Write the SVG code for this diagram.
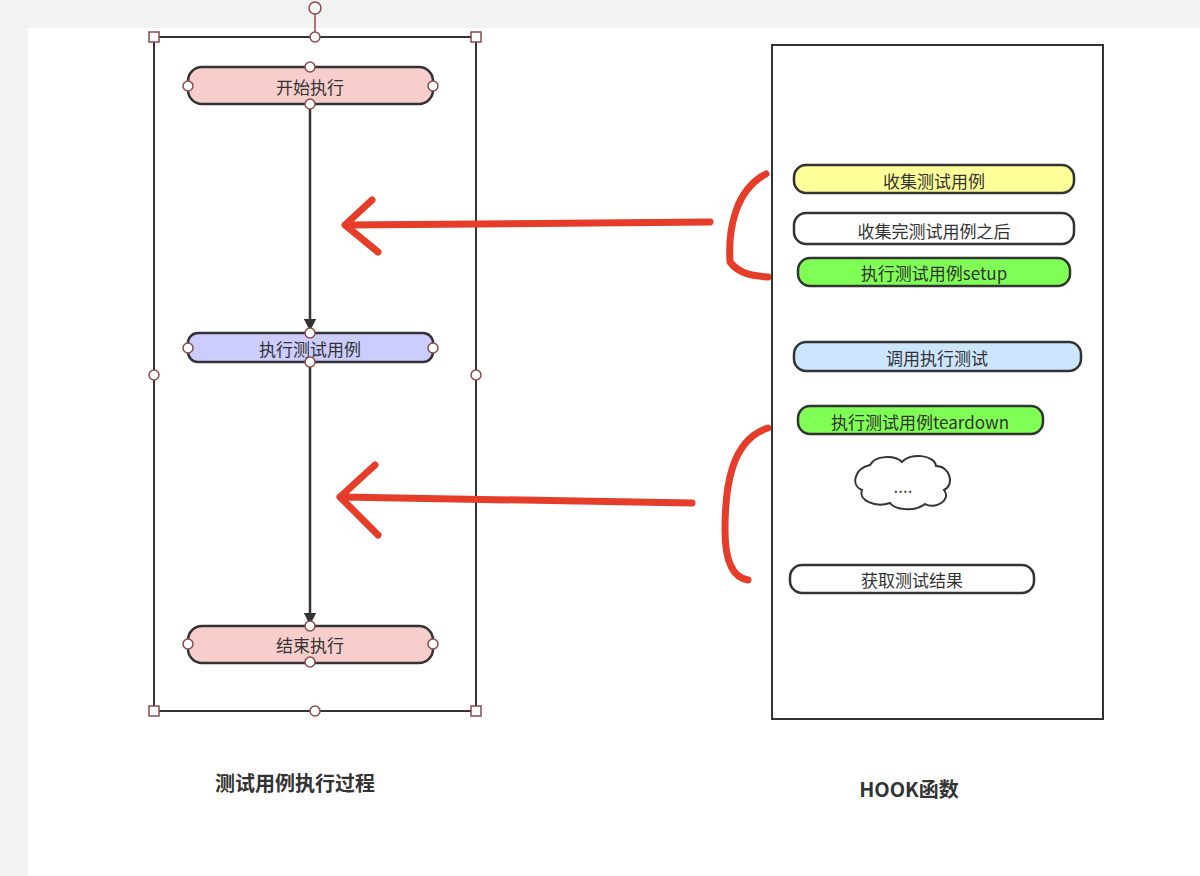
<svg xmlns="http://www.w3.org/2000/svg" width="1200" height="876" viewBox="0 0 1200 876">
<style>
text{font-family:"Noto Sans CJK SC","Liberation Sans",sans-serif;fill:#333;font-size:17px;text-anchor:middle;dominant-baseline:central}
.n{stroke:#333;stroke-width:2.5}
.h{fill:#fff;stroke:#8b4a4a;stroke-width:1.5}
.red{fill:none;stroke:#e63c2a;stroke-width:7;stroke-linecap:round;stroke-linejoin:round}
</style>
<defs><marker id="a" viewBox="0 0 10 10" refX="9" refY="5" markerWidth="5" markerHeight="5" orient="auto"><path d="M0,0L10,5L0,10z" fill="#333"/></marker></defs>
<rect width="1200" height="876" fill="#f2f2f2"/>
<rect x="28" y="28" width="1172" height="848" fill="#fff"/>
<g id="frame"><rect x="154" y="37" width="322" height="674" fill="none" stroke="#333" stroke-width="2"/>
<line x1="315" y1="8" x2="315" y2="37" stroke="#8b4a4a" stroke-width="1.5"/><circle cx="315" cy="8" r="6" class="h"/>
<rect x="149" y="32" width="10" height="10" class="h"/><rect x="471" y="32" width="10" height="10" class="h"/><rect x="149" y="706" width="10" height="10" class="h"/><rect x="471" y="706" width="10" height="10" class="h"/>
<circle cx="315" cy="37" r="5" class="h"/><circle cx="315" cy="711" r="5" class="h"/><circle cx="154" cy="375" r="5" class="h"/><circle cx="476" cy="375" r="5" class="h"/></g>
<g id="connectors"><line x1="310" y1="103" x2="310" y2="330" stroke="#333" stroke-width="2.5" marker-end="url(#a)"/><line x1="310" y1="362" x2="310" y2="624" stroke="#333" stroke-width="2.5" marker-end="url(#a)"/>
<path class="red" d="M710,222 L345,225 M372,200 L345,225 L378,252"/><path class="red" d="M692,503 L340,497 M375,465 L340,497 L378,535"/>
<path class="red" d="M766,174 C735,190 728,230 730,262 C740,275 755,276 768,277"/><path class="red" d="M768,428 C730,440 725,490 725,530 C725,565 735,578 748,580"/></g>
<g id="start"><rect x="188" y="67" width="245" height="37" rx="14" fill="#f8cecc" class="n"/><text x="310" y="86">开始执行</text><circle cx="310" cy="67" r="5" class="h"/><circle cx="188" cy="86" r="5" class="h"/><circle cx="433" cy="86" r="5" class="h"/><circle cx="310" cy="104" r="5" class="h"/></g>
<g id="exec"><rect x="188" y="333" width="245" height="29" rx="10" fill="#ccccff" class="n"/><text x="310" y="348">执行测试用例</text><circle cx="310" cy="333" r="5" class="h"/><circle cx="188" cy="348" r="5" class="h"/><circle cx="433" cy="348" r="5" class="h"/><circle cx="310" cy="362" r="5" class="h"/></g>
<g id="end"><rect x="188" y="626" width="245" height="37" rx="14" fill="#f8cecc" class="n"/><text x="310" y="644">结束执行</text><circle cx="310" cy="626" r="5" class="h"/><circle cx="188" cy="644" r="5" class="h"/><circle cx="433" cy="644" r="5" class="h"/><circle cx="310" cy="662" r="5" class="h"/></g>
<g id="hook"><rect x="772" y="45" width="331" height="674" fill="#fff" stroke="#333" stroke-width="2"/></g>
<g id="h1"><rect x="794" y="165" width="280" height="28" rx="12" fill="#ffff99" class="n"/><text x="934" y="180">收集测试用例</text></g>
<g id="h2"><rect x="794" y="213" width="280" height="31" rx="12" fill="#fff" class="n"/><text x="934" y="230">收集完测试用例之后</text></g>
<g id="h3"><rect x="798" y="258" width="272" height="28" rx="12" fill="#7fff55" class="n"/><text x="934" y="272">执行测试用例setup</text></g>
<g id="h4"><rect x="794" y="342" width="287" height="29" rx="12" fill="#cce5ff" class="n"/><text x="937" y="357">调用执行测试</text></g>
<g id="h5"><rect x="798" y="406" width="245" height="28" rx="12" fill="#7fff55" class="n"/><text x="920" y="421">执行测试用例teardown</text></g>
<g id="cloud"><path d="M870,465 C875,455 895,455 902,462 C910,452 935,455 936,466 C950,466 955,485 944,490 C952,500 935,510 925,504 C915,512 895,510 890,503 C875,508 858,500 862,490 C850,485 855,468 870,465 Z" fill="#fff" stroke="#333" stroke-width="2"/><text x="903" y="485">....</text></g>
<g id="h6"><rect x="790" y="565" width="244" height="28" rx="12" fill="#fff" class="n"/><text x="912" y="579">获取测试结果</text></g>
<text x="295" y="782" style="font-size:20px;font-weight:bold">测试用例执行过程</text>
<text x="909" y="788" style="font-size:20px;font-weight:bold">HOOK函数</text>
</svg>
